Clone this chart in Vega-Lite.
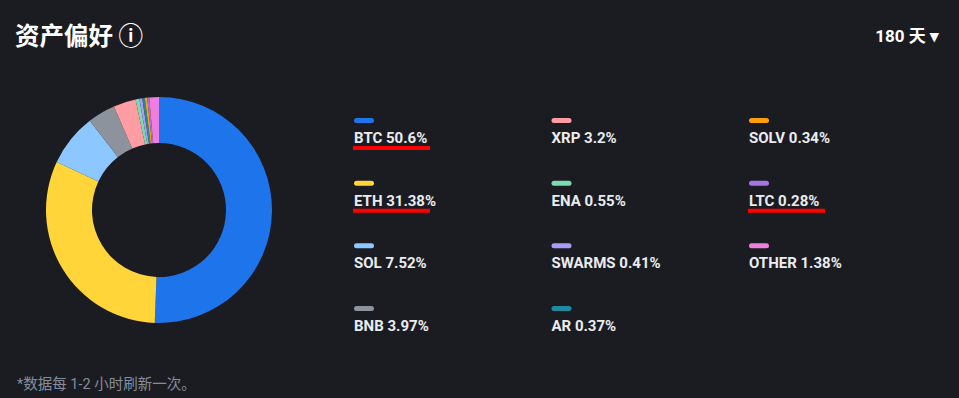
{
  "$schema": "https://vega.github.io/schema/vega-lite/v6.json",
  "background": "#1b1c21",
  "padding": {"top": 24, "left": 0, "right": 0, "bottom": 10},
  "bounds": "flush",
  "spacing": 0,
  "title": {"text": "*数据每 1-2 小时刷新一次。", "orient": "bottom", "anchor": "start", "dx": 17, "offset": 44, "fontSize": 14.5, "fontWeight": "normal", "color": "#848e9c", "font": "Roboto, Noto Sans CJK SC"},
  "data": {"values": [
    {"name": "BTC", "share": 50.6},
    {"name": "ETH", "share": 31.38},
    {"name": "SOL", "share": 7.52},
    {"name": "BNB", "share": 3.97},
    {"name": "XRP", "share": 3.2},
    {"name": "ENA", "share": 0.55},
    {"name": "SWARMS", "share": 0.41},
    {"name": "AR", "share": 0.37},
    {"name": "SOLV", "share": 0.34},
    {"name": "LTC", "share": 0.28},
    {"name": "OTHER", "share": 1.38}
  ]},
  "config": {"view": {"stroke": null}},
  "hconcat": [
    {
      "width": 318,
      "height": 230,
      "title": {"text": "资产偏好 ⓘ", "anchor": "start", "dx": 15, "offset": 45, "fontSize": 24.5, "fontWeight": "bold", "color": "#ffffff", "font": "Noto Sans CJK SC"},
      "transform": [{"window": [{"op": "row_number", "as": "rn"}]}],
      "mark": {"type": "arc", "outerRadius": 113, "innerRadius": 67},
      "encoding": {
        "theta": {"field": "share", "type": "quantitative", "stack": true},
        "order": {"field": "rn", "type": "quantitative"},
        "color": {"field": "name", "type": "nominal", "legend": null,
          "scale": {"domain": ["BTC", "ETH", "SOL", "BNB", "XRP", "ENA", "SWARMS", "AR", "SOLV", "LTC", "OTHER"],
                    "range": ["#1e74ea", "#ffd53a", "#8cc8ff", "#8c939d", "#ff9da2", "#7dd9ae", "#a99cf7", "#1e8ba3", "#ff9f0a", "#a774e8", "#f07ee0"]}}
      }
    },
    {
      "width": 641,
      "height": 230,
      "title": {"text": "180 天 ▾", "anchor": "end", "dx": -20, "offset": 49, "fontSize": 17, "fontWeight": "bold", "color": "#ffffff", "font": "Roboto, Noto Sans CJK SC"},
      "transform": [
        {"window": [{"op": "row_number", "as": "rn"}]},
        {"calculate": "floor((datum.rn - 1) / 4)", "as": "col"},
        {"calculate": "(datum.rn - 1) % 4", "as": "row"},
        {"calculate": "datum.name + ' ' + datum.share + '%'", "as": "label"}
      ],
      "encoding": {
        "x": {"field": "col", "type": "quantitative", "axis": null, "scale": {"domain": [0, 2], "range": [36, 431], "nice": false, "zero": false}},
        "y": {"field": "row", "type": "quantitative", "axis": null, "scale": {"domain": [0, 3], "range": [25.5, 213.5], "nice": false, "zero": false}}
      },
      "layer": [
        {
          "mark": {"type": "rule", "strokeWidth": 5, "strokeCap": "round", "xOffset": 2.5, "x2Offset": 17.5},
          "encoding": {
            "x2": {"field": "col"},
            "color": {"field": "name", "type": "nominal", "legend": null,
              "scale": {"domain": ["BTC", "ETH", "SOL", "BNB", "XRP", "ENA", "SWARMS", "AR", "SOLV", "LTC", "OTHER"],
                        "range": ["#1e74ea", "#ffd53a", "#8cc8ff", "#8c939d", "#ff9da2", "#7dd9ae", "#a99cf7", "#1e8ba3", "#ff9f0a", "#a774e8", "#f07ee0"]}}
          }
        },
        {
          "mark": {"type": "text", "align": "left", "baseline": "alphabetic", "dy": 22.5, "fontSize": 15, "fontWeight": "bold", "font": "Roboto", "color": "#eaecef"},
          "encoding": {"text": {"field": "label"}}
        },
        {
          "transform": [{"filter": {"field": "name", "oneOf": ["BTC", "ETH", "LTC"]}}],
          "mark": {"type": "rule", "color": "#ff0000", "strokeWidth": 4, "xOffset": -1, "x2Offset": 76, "yOffset": 27.5},
          "encoding": {"x2": {"field": "col"}}
        }
      ]
    }
  ]
}
